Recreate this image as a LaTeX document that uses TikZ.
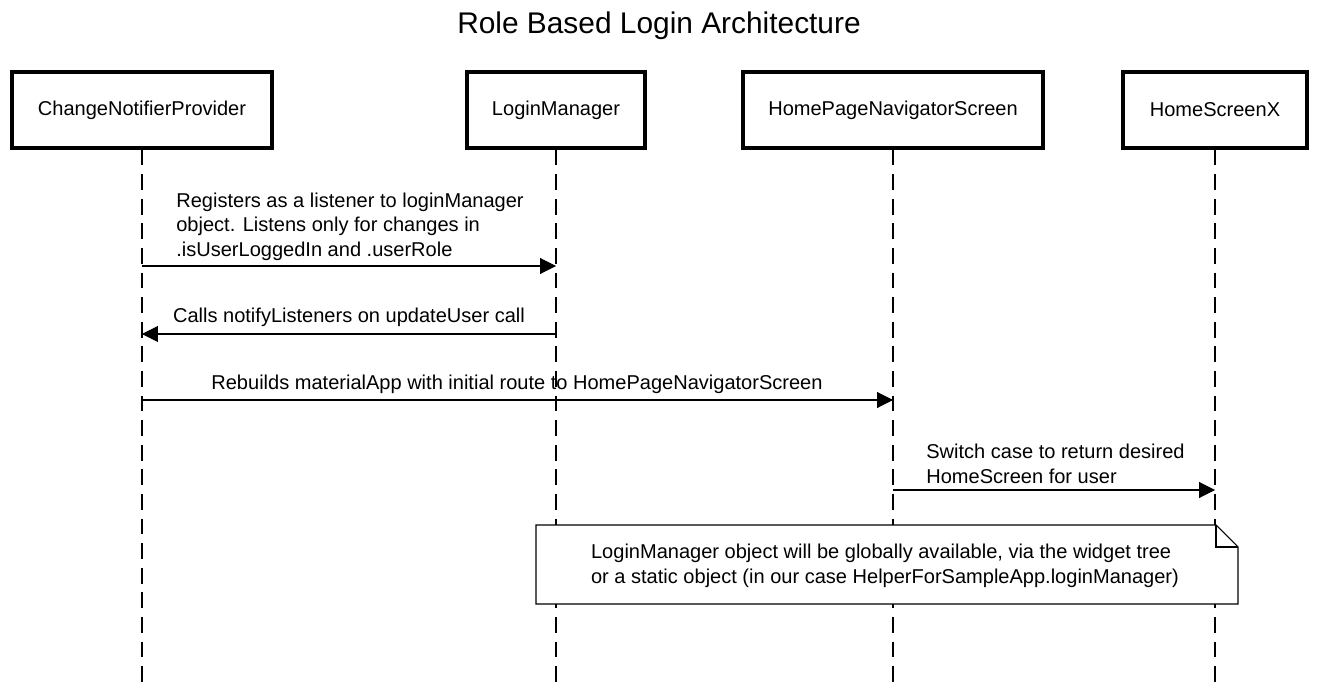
\documentclass[tikz,border=0pt]{standalone}
\usepackage{fontspec}
\setmainfont{Liberation Sans}
\usetikzlibrary{arrows.meta}

\begin{document}
\begin{tikzpicture}%
	[x=0.02cm, y=-0.02cm,
	actor/.style={draw, line width=1.8pt, minimum height=1.52cm, inner sep=0pt, font=\fontsize{11.4}{13}\selectfont},
	life/.style={dash pattern=on 9pt off 5pt, line width=0.6pt},
	msg/.style={line width=0.6pt, -{Triangle[length=9pt,width=9pt]}},
	lbl/.style={font=\fontsize{11.4}{14}\selectfont, align=left, inner sep=0pt}]
%
\useasboundingbox (0,0) rectangle (1318,689);
\node[font=\fontsize{17}{20}\selectfont] (title) at (659,26) {Role Based Login Architecture};
%
%% actors
\node[actor, minimum width=5.2cm] (cnp) at (142,110) {ChangeNotifierProvider};
\node[actor, minimum width=3.56cm] (lm) at (556,110) {LoginManager};
\node[actor, minimum width=6cm] (hpn) at (893,110) {HomePageNavigatorScreen};
\node[actor, minimum width=3.68cm] (hsx) at (1215,110) {HomeScreenX};
%
%% lifelines
\coordinate (cnpE) at (142,689);
\coordinate (lmE) at (556,689);
\coordinate (hpnE) at (893,689);
\coordinate (hsxE) at (1215,689);
\draw[life] (cnp.south) -- (cnpE);
\draw[life] (lm.south) -- (lmE);
\draw[life] (hpn.south) -- (hpnE);
\draw[life] (hsx.south) -- (hsxE);
%
%% messages
\coordinate (m1a) at (142,266); \coordinate (m1b) at (556,266);
\draw[msg] (m1a) -- (m1b);
\node[lbl, anchor=south west] (t1) at (176,261) {Registers as a listener to loginManager\\object. Listens only for changes in\\.isUserLoggedIn and .userRole};
\coordinate (m2a) at (556,334); \coordinate (m2b) at (142,334);
\draw[msg] (m2a) -- (m2b);
\node[lbl, anchor=south] (t2) at (349,327) {Calls notifyListeners on updateUser call};
\coordinate (m3a) at (142,400); \coordinate (m3b) at (893,400);
\draw[msg] (m3a) -- (m3b);
\node[lbl, anchor=south] (t3) at (517,394) {Rebuilds materialApp with initial route to HomePageNavigatorScreen};
\coordinate (m4a) at (893,490); \coordinate (m4b) at (1215,490);
\draw[msg] (m4a) -- (m4b);
\node[lbl, anchor=south west] (t4) at (926,484) {Switch case to return desired\\HomeScreen for user};
%
%% note
\filldraw[fill=white, line width=0.6pt] (536,525) -- (1216,525) -- (1238,547) -- (1238,604) -- (536,604) -- cycle;
\draw[line width=0.6pt] (1216,525) -- (1216,547) -- (1238,547);
\node[lbl] (note) at (885,566) {LoginManager object will be globally available, via the widget tree\\or a static object (in our case HelperForSampleApp.loginManager)};
\end{tikzpicture}
\end{document}
